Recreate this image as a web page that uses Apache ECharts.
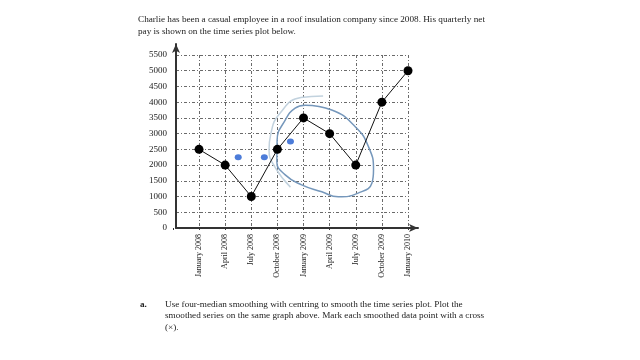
<!DOCTYPE html>
<html>
<head>
<meta charset="utf-8">
<script src="https://cdn.jsdelivr.net/npm/echarts@6/dist/echarts.min.js"></script>
<style>
html,body{margin:0;padding:0;background:#fff;}
#chart{width:640px;height:360px;}
</style>
</head>
<body>
<div id="chart"></div>
<script>
// ---- data ----
const categories = ['January 2008','April 2008','July 2008','October 2008','January 2009','April 2009','July 2009','October 2009','January 2010'];
const netPay = [2500, 2000, 1000, 2500, 3500, 3000, 2000, 4000, 5000];
const yTicks = [0,500,1000,1500,2000,2500,3000,3500,4000,4500,5000,5500];
// handwritten smoothed points (four-median, at half positions)
const smoothX = [1.5, 2.5, 3.5];
const smoothY = [2250, 2250, 2750];
// handwritten loop annotation (in data units: category index, pay)
const loopX = [4.06, 5.08, 5.98, 6.49, 6.68, 6.62, 6.09, 5.33, 4.70, 3.93, 3.30, 2.98, 2.99, 3.30, 3.68, 4.06];
const loopY = [3900, 3750, 3220, 2580, 1850, 1430, 1110, 990, 1150, 1370, 1690, 2110, 2790, 3430, 3810, 3900];
const arcX = [4.75, 3.90, 3.10, 2.75, 2.68, 2.92, 3.50];
const arcY = [4200, 4150, 3650, 3000, 2480, 1920, 1300];
const titleLines = ['Charlie has been a casual employee in a roof insulation company since 2008. His quarterly net', 'pay is shown on the time series plot below.'];
const questionLabel = 'a.';
const questionLines = ['Use four-median smoothing with centring to smooth the time series plot. Plot the', 'smoothed series on the same graph above. Mark each smoothed data point with a cross', '(\u00d7).'];

const serif = '"Liberation Serif", "DejaVu Serif", serif';
const chart = echarts.init(document.getElementById('chart'));

const pairs = (xs, ys) => xs.map((x, i) => [x, ys[i]]);

const graphics = [];
titleLines.forEach((t, i) => graphics.push({type:'text', left:138, top:15.5 + i*11.5, style:{text:t, font:'9.2px ' + serif, fill:'#222'}}));
graphics.push({type:'text', left:140, top:300, style:{text:questionLabel, font:'bold 9.2px ' + serif, fill:'#222'}});
questionLines.forEach((t, i) => graphics.push({type:'text', left:165, top:300 + i*11.5, style:{text:t, font:'9.2px ' + serif, fill:'#222'}}));

const dash = {type:[3,2,1,2], color:'#6a6a6a', width:1};

chart.setOption({
  animation:false,
  backgroundColor:'#fff',
  graphic: graphics,
  grid:[
    {left:172.9, right:232, top:55, bottom:132},   // data + vertical gridlines + labels
    {left:176, right:232, top:55, bottom:132},     // horizontal gridlines
    {left:176, right:222, top:44, bottom:132}      // axis lines with arrows
  ],
  xAxis:[
    {gridIndex:0, type:'value', min:-1, max:8, interval:1,
     axisLine:{show:false}, axisTick:{show:true, length:2, lineStyle:{color:'#333'}},
     splitLine:{show:true, showMinLine:false, lineStyle:dash},
     axisLabel:{rotate:90, margin:6, fontFamily:serif, fontSize:8, color:'#222',
       formatter:(v)=> (v>=0 && Number.isInteger(v)) ? categories[v] : ''}},
    {gridIndex:1, type:'value', min:0, max:1, show:false},
    {gridIndex:2, type:'value', min:0, max:1,
     axisLine:{show:true, symbol:['none','arrow'], symbolSize:[6,9], lineStyle:{color:'#333', width:2}},
     axisTick:{show:false}, axisLabel:{show:false}, splitLine:{show:false}}
  ],
  yAxis:[
    {gridIndex:0, type:'value', min:0, max:5500, interval:500,
     axisLine:{show:false}, axisTick:{show:false}, splitLine:{show:false},
     axisLabel:{margin:6, fontFamily:serif, fontSize:9, color:'#222',
       formatter:(v)=> yTicks.indexOf(v) >= 0 ? String(v) : ''}},
    {gridIndex:1, type:'value', min:0, max:5500, interval:500,
     axisLine:{show:false}, axisTick:{show:false}, axisLabel:{show:false},
     splitLine:{show:true, showMinLine:false, lineStyle:dash}},
    {gridIndex:2, type:'value', min:0, max:1,
     axisLine:{show:true, symbol:['none','arrow'], symbolSize:[6,9], lineStyle:{color:'#333', width:2}},
     axisTick:{show:false}, axisLabel:{show:false}, splitLine:{show:false}}
  ],
  series:[
    {type:'line', xAxisIndex:0, yAxisIndex:0, data:pairs(categories.map((c,i)=>i), netPay),
     symbol:'circle', symbolSize:9, itemStyle:{color:'#000'}, lineStyle:{color:'#111', width:1}, z:5},
    {type:'scatter', xAxisIndex:0, yAxisIndex:0, data:pairs(smoothX, smoothY),
     symbol:'circle', symbolSize:[7,6], itemStyle:{color:'#1f5bd0'}, z:6},
    {type:'line', xAxisIndex:0, yAxisIndex:0, data:pairs(loopX, loopY), smooth:0.5,
     symbol:'none', lineStyle:{color:'#7597bb', width:1.5}, z:4},
    {type:'line', xAxisIndex:0, yAxisIndex:0, data:pairs(arcX, arcY), smooth:0.5,
     symbol:'none', lineStyle:{color:'#c2d2de', width:1.5}, z:3}
  ]
});
</script>
</body>
</html>
